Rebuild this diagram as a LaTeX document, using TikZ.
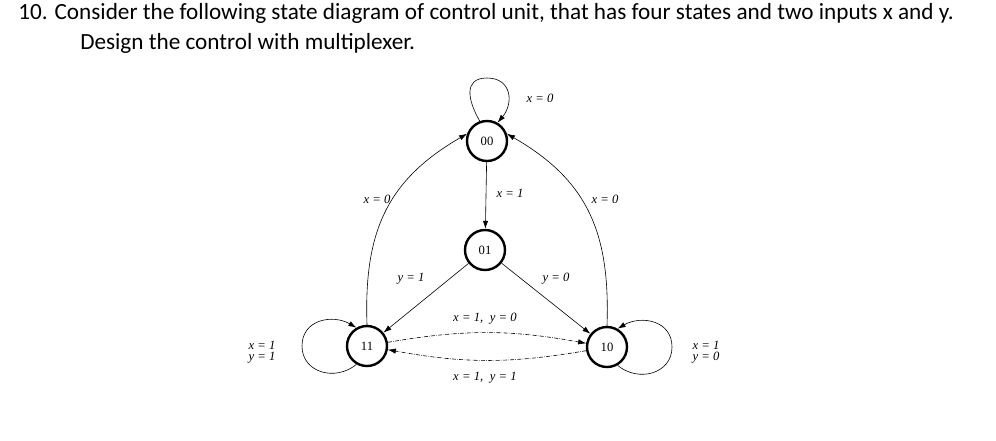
\documentclass[tikz,border=0pt]{standalone}
\usepackage{fontspec}
\setmainfont{Carlito}
\newfontfamily\tms{Liberation Serif}
\usetikzlibrary{arrows.meta}
\begin{document}
\begin{tikzpicture}[x=0.75pt,y=-0.75pt,
  st/.style={circle,draw,line width=1.8pt,minimum size=30pt,inner sep=0pt,font=\tms\fontsize{9.5}{10}\selectfont},
  edge/.style={draw,line width=0.45pt,-{Latex[length=6pt,width=4pt]}},
  lbl/.style={font=\tms\itshape\fontsize{9.5}{10}\selectfont,inner sep=1pt},
  ttl/.style={font=\fontsize{17.4}{20}\selectfont,anchor=west,inner sep=0pt}]
\useasboundingbox (0,0) rectangle (996,440);
\fill[white] (0,0) rectangle (996,440);
\node[ttl] (t1) at (18,13) {10. Consider the following state diagram of control unit, that has four states and two inputs x and y.};
\node[ttl] (t2) at (80,43) {Design the control with multiplexer.};
\node[st] (s00) at (487,141) {00};
\node[st] (s01) at (485,250) {01};
\node[st] (s11) at (367,346) {11};
\node[st] (s10) at (607,347) {10};
\draw[edge] (s00) -- (s01);
\draw[edge] (s01) -- (s11);
\draw[edge] (s01) -- (s10);
\draw[edge] (s11.north) to[out=92,in=210,looseness=1.1] (s00.160);
\draw[edge] (s10.north) to[out=88,in=-30,looseness=1.1] (s00.20);
\draw[edge,densely dashdotted] (s11.10) to[bend left=10] (s10.170);
\draw[edge,densely dashdotted] (s10.190) to[bend left=10] (s11.350);
\draw[edge] (s00.110) to[out=120,in=180,looseness=1.4] (487,78) to[out=0,in=50,looseness=1.4] (s00.60);
\draw[edge] (s11.240) to[out=220,in=270,looseness=1.2] (302,346) to[out=90,in=150,looseness=1.2] (s11.120);
\draw[edge] (s10.300) to[out=320,in=270,looseness=1.2] (672,347) to[out=90,in=30,looseness=1.2] (s10.60);
\node[lbl] (l1) at (540,98) {x = 0};
\node[lbl] (l2) at (377,199) {x = 0};
\node[lbl] (l3) at (605,199) {x = 0};
\node[lbl] (l4) at (510,193) {x = 1};
\node[lbl] (l5) at (411,279) {y = 1};
\node[lbl] (l6) at (556,279) {y = 0};
\node[lbl] (l7) at (485,319) {x = 1,\; y = 0};
\node[lbl] (l8) at (485,378) {x = 1,\; y = 1};
\node[lbl,align=left] (l9) at (262,352) {x = 1\\[-2pt]y = 1};
\node[lbl,align=left] (l10) at (706,352) {x = 1\\[-2pt]y = 0};
\end{tikzpicture}
\end{document}
